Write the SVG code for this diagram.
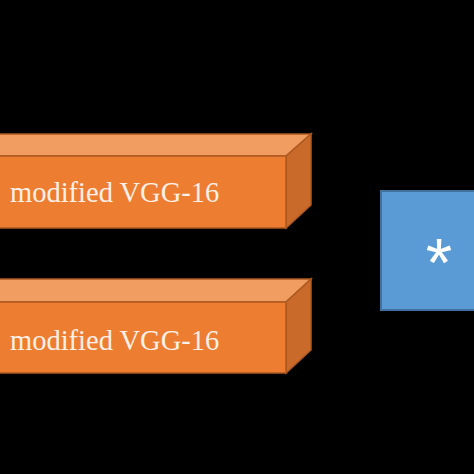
<svg xmlns="http://www.w3.org/2000/svg" width="474" height="474" viewBox="0 0 474 474">
<style>
.front{fill:#ED7D31;stroke:#AE5A21;stroke-width:1.5}
.top{fill:#F19C61;stroke:#AE5A21;stroke-width:1.5}
.side{fill:#C9692A;stroke:#AE5A21;stroke-width:1.5}
.lbl{font-family:"Liberation Serif",serif;font-size:28.5px;fill:#FDF0E6}
</style>
<rect width="474" height="474" fill="#000"/>
<g id="vgg1">
<polygon class="top" points="-2,134 311,134 286,156 -2,156"/>
<polygon class="side" points="286,156 311,134 311,205 286,228"/>
<rect class="front" x="-2" y="156" width="288" height="72"/>
<text class="lbl" x="10" y="202">modified VGG-16</text>
</g>
<g id="vgg2">
<polygon class="top" points="-2,279 311,279 286,302 -2,302"/>
<polygon class="side" points="286,302 311,279 311,350 286,373"/>
<rect class="front" x="-2" y="302" width="288" height="71"/>
<text class="lbl" x="10" y="350">modified VGG-16</text>
</g>
<g id="mult">
<rect x="381" y="191" width="100" height="119" fill="#5B9BD5" stroke="#41719C" stroke-width="2"/>
<text x="439" y="286" text-anchor="middle" font-family="Liberation Sans,sans-serif" font-size="68" fill="#fff">*</text>
</g>
<g id="connectors"></g>
</svg>
